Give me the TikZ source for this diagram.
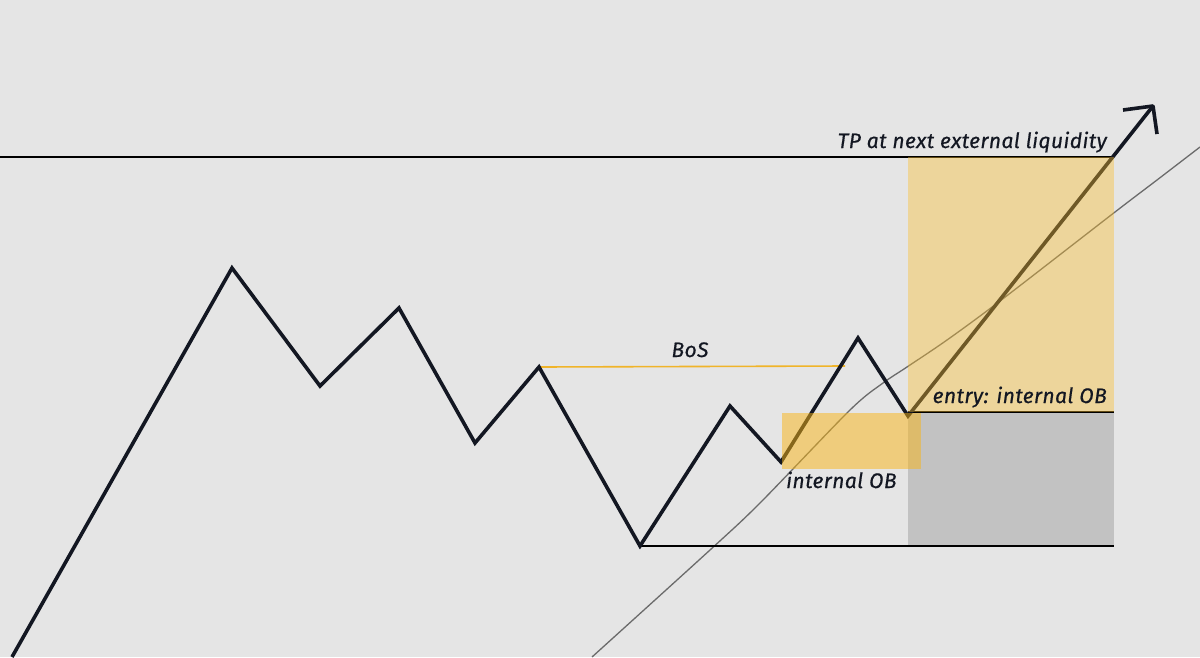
\documentclass[tikz,border=0pt]{standalone}
\usepackage{fontspec}
\setmainfont{Fira Sans}
\newfontfamily\lblfont{Fira Sans}[LetterSpace=2,FakeBold=0.6]
\begin{document}
\begin{tikzpicture}[x=1pt,y=-1pt,
  price/.style={line width=3.6pt,color=navy,line join=miter,line cap=butt},
  level/.style={line width=2pt,color=black},
  lbl/.style={font=\lblfont\itshape\fontsize{21}{24}\selectfont,text=labeltext,inner sep=0pt}]
\definecolor{bg}{HTML}{E5E5E5}
\definecolor{navy}{HTML}{131722}
\definecolor{labeltext}{HTML}{131722}
\definecolor{tpzone}{RGB}{249,189,46}
\definecolor{obzone}{RGB}{249,181,21}
\definecolor{slzone}{HTML}{C2C2C2}
\definecolor{bosline}{HTML}{F0B429}
\definecolor{maline}{HTML}{6B6B6B}
\fill[bg] (0,0) rectangle (1200,657);
\useasboundingbox (0,0) rectangle (1200,657);
% stop-loss zone
\fill[slzone] (908,412) rectangle (1114,546);
% moving average curve
\draw[maline,line width=1.3pt] plot[smooth,tension=0.5] coordinates {(592,657) (710,550) (760,503) (850,410) (883,383) (907,367) (947,340) (1000,301) (1115,212) (1157,180) (1200,147)};
% swing points
\coordinate (p0) at (12,657);
\coordinate (p1) at (232,268);
\coordinate (p2) at (320,386);
\coordinate (p3) at (399,308);
\coordinate (p4) at (475,443);
\coordinate (p5) at (539,367);
\coordinate (p6) at (640,546);
\coordinate (p7) at (730,406);
\coordinate (p8) at (781,462);
\coordinate (p9) at (858,338);
\coordinate (p10) at (908,416);
\coordinate (tip) at (1153,106);
\coordinate (armA) at (1123,110);
\coordinate (armB) at (1157,134);
% levels
\coordinate (tpL) at (0,157);
\coordinate (tpR) at (1114,157);
\coordinate (enR) at (1114,412);
\coordinate (enL) at (908,412);
\coordinate (lowR) at (1114,546);
\coordinate (bosR) at (845,366);
\draw[level] (tpL) -- (tpR);
\draw[level] (enL) -- (enR);
\draw[level] (p6) -- (lowR);
\draw[bosline,line width=1.6pt] (p5) -- (bosR);
% price path
\draw[price] (p0) -- (p1) -- (p2) -- (p3) -- (p4) -- (p5) -- (p6) -- (p7) -- (p8) -- (p9) -- (p10) -- (tip);
\draw[price,line join=round] (armA) -- (tip) -- (armB);
% zones
\fill[tpzone,opacity=0.4] (908,157) rectangle (1114,412);
\fill[obzone,opacity=0.5] (782,413) rectangle (921,469);
% labels
\node[lbl,anchor=base east] (tp) at (1107,148) {TP at next external liquidity};
\node[lbl,anchor=base east] (entry) at (1107,403) {entry: internal OB};
\node[lbl,anchor=base west] (iob) at (786,488) {internal OB};
\node[lbl,anchor=base] (bos) at (690,357) {BoS};
\end{tikzpicture}
\end{document}
